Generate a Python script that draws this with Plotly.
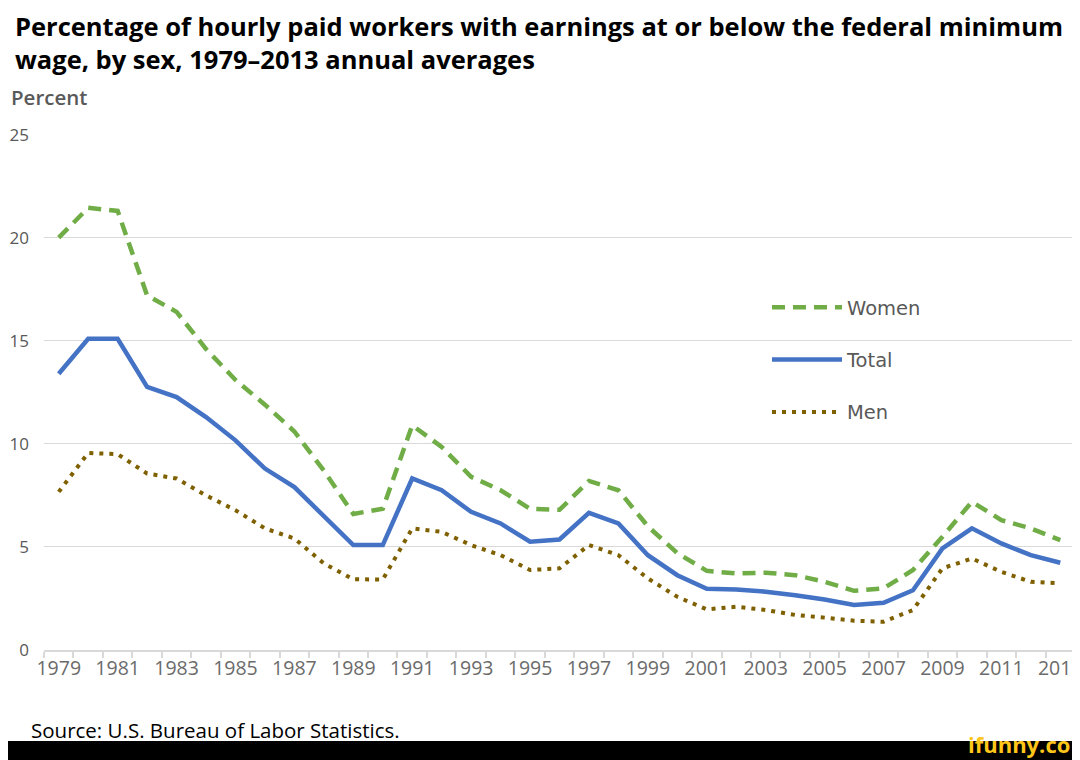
import plotly.graph_objects as go

years = list(range(1979, 2014))
women = [20.0, 21.45, 21.3, 17.2, 16.4, 14.6, 13.1, 11.9, 10.6, 8.7, 6.6, 6.85,
         10.9, 9.85, 8.4, 7.75, 6.85, 6.8, 8.2, 7.75, 6.0, 4.7, 3.84, 3.71,
         3.75, 3.63, 3.31, 2.87, 2.99, 3.88, 5.49, 7.19, 6.3, 5.9, 5.33]
total = [13.4, 15.1, 15.1, 12.76, 12.27, 11.3, 10.17, 8.8, 7.9, 6.46, 5.09, 5.09,
         8.32, 7.75, 6.7, 6.14, 5.25, 5.36, 6.65, 6.14, 4.6, 3.63, 2.97, 2.94,
         2.83, 2.66, 2.45, 2.18, 2.29, 2.9, 4.93, 5.9, 5.17, 4.6, 4.23]
men = [7.67, 9.56, 9.5, 8.56, 8.32, 7.5, 6.78, 5.9, 5.41, 4.2, 3.43, 3.42,
       5.9, 5.73, 5.09, 4.6, 3.88, 3.96, 5.09, 4.6, 3.47, 2.58, 1.97, 2.1,
       1.94, 1.7, 1.57, 1.42, 1.37, 1.94, 3.96, 4.44, 3.79, 3.31, 3.23]
tick_years = list(range(1979, 2014, 2))
y_ticks = [0, 5, 10, 15, 20, 25]

title_text = ("Percentage of hourly paid workers with earnings at or below the federal minimum"
              "<br>wage, by sex, 1979\u20132013 annual averages")

# the page places the figure 8px in from the top-left corner, so the figure is
# sized to fill the rest of the 1080x760 window and positions are given in page pixels
OFF = 8
W, H = 1080 - OFF, 760 - OFF
L, R, T, B = 44 - OFF, 5, 134 - OFF, 760 - 650
PW, PH = W - L - R, H - T - B


def px(x):
    return (x - OFF - L) / PW


def py(y):
    return (H - B - (y - OFF)) / PH


fig = go.Figure()
fig.add_trace(go.Scatter(x=years, y=women, name="Women", mode="lines",
                         legendgroup="w",
                         line=dict(color="#70AD47", width=4.5, dash="13px,8px")))
fig.add_trace(go.Scatter(x=years, y=total, name="Total", mode="lines",
                         legendgroup="t",
                         line=dict(color="#4472C4", width=4.5)))
fig.add_trace(go.Scatter(x=years, y=men, name="Men", mode="lines",
                         legendgroup="m",
                         line=dict(color="#7F6000", width=4, dash="4px,6px")))

fig.update_layout(
    width=W, height=H,
    margin=dict(l=L, r=R, t=T, b=B, autoexpand=False),
    paper_bgcolor="white", plot_bgcolor="white",
    showlegend=True,
    legend=dict(x=px(767), y=py(288), xanchor="left", yanchor="top",
                traceorder="grouped", tracegroupgap=24, itemwidth=70,
                bgcolor="rgba(0,0,0,0)",
                font=dict(family="DejaVu Sans", size=19.5, color="#595959")),
    xaxis=dict(range=[1978.5, 2013.5], tickmode="array", tickvals=tick_years,
               ticktext=[str(y) for y in tick_years], ticks="",
               ticklabeloverflow="allow",
               showgrid=False, zeroline=False, showline=True,
               linecolor="#D9D9D9", linewidth=1.5,
               tickfont=dict(family="Open Sans", size=19.5, color="#6b6b6b"),
               minor=dict(ticks="outside", tickmode="array",
                          tickvals=[y - 0.5 for y in years] + [2013.5],
                          ticklen=6, tickcolor="#D9D9D9", tickwidth=1.5, showgrid=False)),
    yaxis=dict(range=[0, 25.03], tickmode="array", tickvals=y_ticks,
               showgrid=True, gridcolor="#D9D9D9", gridwidth=1.2,
               zeroline=False, showline=False, ticks="",
               ticklabelstandoff=14, ticklabeloverflow="allow",
               tickfont=dict(family="Open Sans", size=17, color="#595959")),
)

fig.add_annotation(text="<b>" + title_text + "</b>", xref="paper", yref="paper",
                   x=px(13), y=py(7), xanchor="left", yanchor="top", align="left",
                   showarrow=False,
                   font=dict(family="Open Sans", size=25.5, color="#000000"))
fig.add_annotation(text="Percent", xref="paper", yref="paper",
                   x=px(9), y=py(97), xanchor="left", yanchor="middle",
                   showarrow=False,
                   font=dict(family="Open Sans", size=20.5, weight=600, color="#595959"))
fig.add_annotation(text="Source: U.S. Bureau of Labor Statistics.", xref="paper", yref="paper",
                   x=px(29), y=py(730), xanchor="left", yanchor="middle",
                   showarrow=False,
                   font=dict(family="Open Sans", size=20.5, color="#000000"))
fig.add_shape(type="rect", xref="paper", yref="paper",
              x0=px(0), x1=px(1082), y0=py(741), y1=py(762),
              fillcolor="#000000", line=dict(width=0), layer="above")
fig.add_annotation(text="<b>ifunny.co</b>", xref="paper", yref="paper",
                   x=px(1072), y=py(744), xanchor="right", yanchor="middle",
                   showarrow=False,
                   font=dict(family="Open Sans", size=22, color="#FFC61A"))

fig.write_html("out.html")
